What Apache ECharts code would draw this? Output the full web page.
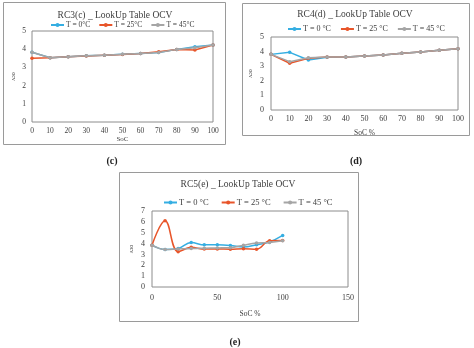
<!DOCTYPE html>
<html><head><meta charset="utf-8">
<script src="https://cdn.jsdelivr.net/npm/echarts@6/dist/echarts.min.js"></script>
<style>html,body{margin:0;padding:0;background:#fff}#c{width:474px;height:348px}</style>
</head><body><div id="c"></div>
<script>
// ---- data ----
var socC = [0,10,20,30,40,50,60,70,80,90,100];
var socD = [0,10,20,30,40,50,60,70,80,90,100];
var socE = [0,10,20,30,40,50,60,70,80,90,100];

var c_T0  = [3.83,3.53,3.59,3.64,3.67,3.72,3.77,3.82,3.99,4.13,4.23];
var c_T25 = [3.50,3.53,3.59,3.63,3.67,3.71,3.77,3.86,3.98,3.96,4.23];
var c_T45 = [3.83,3.53,3.59,3.64,3.67,3.72,3.77,3.82,3.99,4.08,4.23];

var d_T0  = [3.81,3.95,3.42,3.62,3.63,3.70,3.77,3.88,3.97,4.09,4.20];
var d_T25 = [3.81,3.20,3.55,3.63,3.63,3.70,3.77,3.88,3.97,4.09,4.20];
var d_T45 = [3.81,3.31,3.58,3.63,3.63,3.70,3.77,3.88,3.97,4.09,4.20];

var e_T0  = [3.85,3.45,3.55,4.10,3.88,3.88,3.82,3.68,3.90,4.15,4.75];
var e_T25 = [3.85,6.10,3.25,3.65,3.50,3.50,3.48,3.52,3.48,4.25,4.28];
var e_T45 = [3.85,3.45,3.50,3.55,3.58,3.60,3.62,3.85,4.05,4.10,4.25];

var titles = ["RC3(c) _ LookUp Table OCV","RC4(d) _ LookUp Table OCV","RC5(e) _ LookUp Table OCV"];
var namesC = ["T = 0°C","T = 25°C","T = 45°C"];
var namesDE = ["T = 0 °C","T = 25 °C","T = 45 °C"];
var yTicksCD = [0,1,2,3,4,5];
var yTicksE = [0,1,2,3,4,5,6,7];
var xTicksE = [0,50,100,150];

var colors = ['#35aee2','#e8552a','#a5a5a5'];
var FONT = '"Liberation Serif","DejaVu Serif",serif';
var TXT = '#404040';

function pairs(xs, ys){ return xs.map(function(x,i){ return [x, ys[i]]; }); }

var chart = echarts.init(document.getElementById('c'));

var grids = [
  {left:32, top:31, width:181, height:91},
  {left:271, top:37, width:187, height:73},
  {left:152, top:211, width:196, height:76}
].map(function(g){ g.show = true; g.borderColor = '#8c8c8c'; g.borderWidth = 1; g.backgroundColor='transparent'; return g; });

function xAxis(gi, max, interval, name, gap, fs, margin){
  return {type:'value', gridIndex:gi, min:0, max:max, interval:interval,
    name:name, nameLocation:'middle', nameGap:gap,
    nameTextStyle:{fontFamily:FONT, fontSize:fs-0.5, color:TXT},
    axisLine:{show:false}, axisTick:{show:false}, splitLine:{show:false},
    axisLabel:{fontFamily:FONT, fontSize:fs, color:TXT, margin:margin}};
}
function yAxis(gi, max, fs, margin, gap){
  return {type:'value', gridIndex:gi, min:0, max:max, interval:1,
    name:'ocv', nameLocation:'middle', nameGap:gap, nameRotate:-90,
    nameTextStyle:{fontFamily:FONT, fontSize:6, color:TXT},
    axisLine:{show:false}, axisTick:{show:false}, splitLine:{show:false},
    axisLabel:{fontFamily:FONT, fontSize:fs, color:TXT, margin:margin}};
}

function mk(name, data, ci, gi, smooth){
  return {type:'line', name:name, data:data, xAxisIndex:gi, yAxisIndex:gi,
    smooth:smooth, symbol:'circle', symbolSize:3.5, showSymbol:true,
    lineStyle:{width:1.5, color:colors[ci]}, itemStyle:{color:colors[ci]},
    emphasis:{disabled:true}, animation:false, z: 2+ci};
}

var series = [
  mk(namesC[0], pairs(socC,c_T0), 0, 0, false),
  mk(namesC[1], pairs(socC,c_T25), 1, 0, false),
  mk(namesC[2], pairs(socC,c_T45), 2, 0, false),
  mk(namesDE[0], pairs(socD,d_T0), 0, 1, false),
  mk(namesDE[1], pairs(socD,d_T25), 1, 1, false),
  mk(namesDE[2], pairs(socD,d_T45), 2, 1, false),
  mk(namesDE[0], pairs(socE,e_T0), 0, 2, 0.4),
  mk(namesDE[1], pairs(socE,e_T25), 1, 2, 0.4),
  mk(namesDE[2], pairs(socE,e_T45), 2, 2, 0.4)
];

function legend(names, left, top, gap, fs){
  return {data:names, left:left, top:top, width:240, itemWidth:13, itemHeight:5, itemGap:gap,
    selectedMode:false, textStyle:{fontFamily:FONT, fontSize:fs, color:TXT, padding:[0,0,0,-3]}, padding:0};
}
function title(text, x, y){
  return {text:text, left:x, top:y, textAlign:'center', padding:0,
    textStyle:{fontFamily:FONT, fontSize:9.5, fontWeight:'normal', color:TXT}};
}

chart.setOption({
  animation:false,
  title:[title(titles[0],115,10), title(titles[1],355,9), title(titles[2],238,179)],
  legend:[legend(namesC,50,21,8,7.5), legend(namesDE,287,25,9,8), legend(namesDE,163,198,12,8.5)],
  grid:grids,
  xAxis:[xAxis(0,100,10,'SoC',14,7.5,5), xAxis(1,100,10,'SoC %',19,8,5), xAxis(2,150,50,'SoC %',23,8,7)],
  yAxis:[yAxis(0,5,7.5,6,15), yAxis(1,5,8,7,17), yAxis(2,7,8,7,17)],
  series:series,
  graphic:[
    {type:'rect', shape:{x:3.5,y:2.5,width:222,height:142}, style:{fill:'none', stroke:'#9a9a9a', lineWidth:1}, silent:true},
    {type:'rect', shape:{x:242.5,y:3.5,width:227,height:132}, style:{fill:'none', stroke:'#9a9a9a', lineWidth:1}, silent:true},
    {type:'rect', shape:{x:119.5,y:172.5,width:239,height:149}, style:{fill:'none', stroke:'#9a9a9a', lineWidth:1}, silent:true},
    {type:'text', x:112, y:161, style:{text:'(c)', font:'bold 10px '+FONT, fill:'#222', align:'center', verticalAlign:'middle'}},
    {type:'text', x:356, y:161, style:{text:'(d)', font:'bold 10px '+FONT, fill:'#222', align:'center', verticalAlign:'middle'}},
    {type:'text', x:235, y:342, style:{text:'(e)', font:'bold 10px '+FONT, fill:'#222', align:'center', verticalAlign:'middle'}}
  ]
});
</script></body></html>
